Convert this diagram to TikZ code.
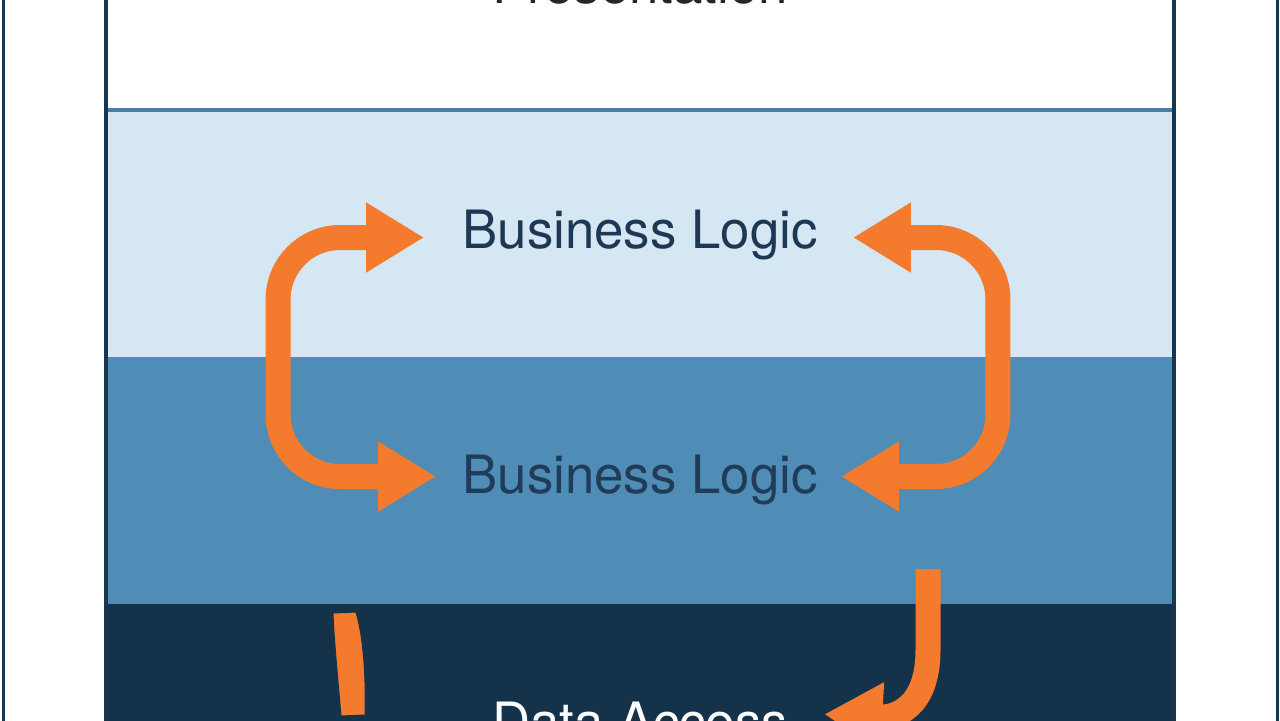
\documentclass[tikz,border=0pt]{standalone}
\usepackage{fontspec}
\setmainfont{TeX Gyre Heros}
\usetikzlibrary{arrows.meta}
\usetikzlibrary{positioning}

\definecolor{layerlight}{HTML}{D4E7F3}
\definecolor{layermid}{HTML}{4F8DB6}
\definecolor{layerdark}{HTML}{14324A}
\definecolor{framecol}{HTML}{17364F}
\definecolor{dividercol}{HTML}{4A7EA3}
\definecolor{flowor}{HTML}{F47A2E}
\definecolor{textnavy}{HTML}{1D3854}

\begin{document}
\begin{tikzpicture}[x=0.5pt,y=-0.5pt,
    layer/.style={font=\fontsize{26.4}{30}\selectfont, inner sep=0pt, anchor=base},
    flow/.style={draw=flowor, line width=12.5pt, rounded corners=31pt},
    >={Triangle[length=29pt,width=33pt]}]
          \useasboundingbox (0,0) rectangle (1280,720);
          \fill[white] (0,0) rectangle (1280,720);
          \fill[layerlight] (106,111) rectangle (1174,357);
          \fill[layermid] (106,357) rectangle (1174,604);
          \fill[layerdark] (106,604) rectangle (1174,725);
          \draw[dividercol, line width=2pt] (106,110) -- (1174,110);
          \draw[framecol, line width=2pt] (106,-5) -- (106,725) (1174,-5) -- (1174,725);
          \draw[framecol, line width=1.5pt] (3,-5) -- (3,725) (1277,-5) -- (1277,725);

          \node[layer, text=black!85] (pres) at (640,3) {Presentation};
          \node[layer, text=textnavy] (logicA) at (640,248) {Business Logic};
          \node[layer, text=textnavy!95!layermid] (logicB) at (640,493) {Business Logic};
          \node[layer, text=white!94!layerlight] (data) at (640,740) {Data Access};
          \coordinate (jstart) at (928,569);

          \draw[flow, <->]
          ([xshift=-19pt,yshift=-1.5pt]logicA.west) -- ++(-146,0) |- ([xshift=-13pt,yshift=1.5pt]logicB.west);
          \draw[flow, <->]
          ([xshift=17.5pt,yshift=-1.5pt]logicA.east) -- ++(145,0) |- ([xshift=11.5pt,yshift=1.5pt]logicB.east);
          \draw[flow, ->, rounded corners=0pt]
          (jstart) -- (928,650) .. controls (928,708) and (895,718) .. ([xshift=18pt,yshift=3.5pt]data.east);

          \filldraw[fill=flowor, draw=layerdark, line width=0.5pt]
          (333,613) -- (356,612) .. controls (364,640) and (366,680) .. (365,715)
          -- (341,716) .. controls (338,680) and (334,640) .. (333,613) -- cycle;
        \end{tikzpicture}
\end{document}
